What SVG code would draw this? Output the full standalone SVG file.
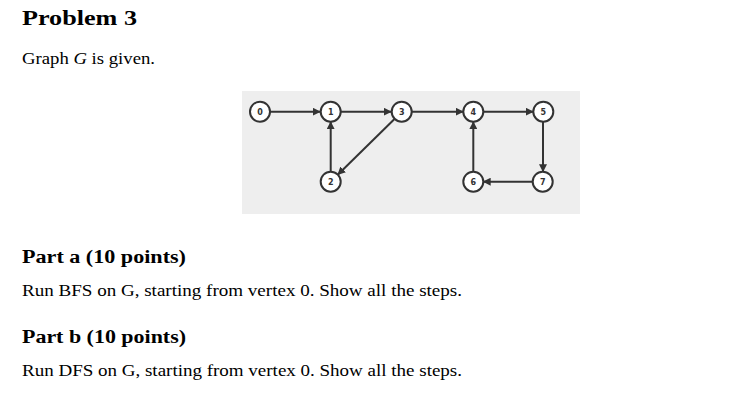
<svg xmlns="http://www.w3.org/2000/svg" width="750" height="407" viewBox="0 0 750 407">
<style>
.t{font-family:"Liberation Serif",serif;fill:#000}
.h{font-family:"Liberation Serif",serif;font-weight:bold;fill:#000}
.n circle{fill:#fff;stroke:#333;stroke-width:2}
.n text{font-family:"DejaVu Sans",sans-serif;font-size:8px;font-weight:bold;fill:#333;text-anchor:middle}
.e line{stroke:#333;stroke-width:2;marker-end:url(#a)}
</style>
<defs><marker id="a" viewBox="0 0 10 10" refX="9" refY="5" markerWidth="4" markerHeight="4" orient="auto"><path d="M0,0L10,5L0,10z" fill="#333"/></marker></defs>
<rect width="750" height="407" fill="#fff"/>
<text class="h" x="22" y="25" font-size="22" textLength="115" lengthAdjust="spacingAndGlyphs">Problem 3</text>
<text class="t" x="22" y="64" font-size="16" textLength="133" lengthAdjust="spacingAndGlyphs">Graph <tspan font-style="italic">G</tspan> is given.</text>
<rect x="242" y="91" width="338" height="123" fill="#eeeeee"/>
<g class="e">
<line x1="270" y1="111.7" x2="320" y2="111.7"/>
<line x1="341" y1="111.7" x2="391" y2="111.7"/>
<line x1="412" y1="111.7" x2="463" y2="111.7"/>
<line x1="483.5" y1="111.7" x2="533" y2="111.7"/>
<line x1="330.7" y1="171.5" x2="330.7" y2="122"/>
<line x1="394.5" y1="119" x2="338" y2="174.5"/>
<line x1="473.3" y1="171.5" x2="473.3" y2="122"/>
<line x1="543" y1="122" x2="543" y2="171.5"/>
<line x1="532.5" y1="181.7" x2="483.5" y2="181.7"/>
</g>
<g id="n0" class="n"><circle cx="260" cy="111.7" r="10"/><text x="260" y="114.5">0</text></g>
<g id="n1" class="n"><circle cx="330.7" cy="111.7" r="10"/><text x="330.7" y="114.5">1</text></g>
<g id="n3" class="n"><circle cx="401.7" cy="111.7" r="10"/><text x="401.7" y="114.5">3</text></g>
<g id="n4" class="n"><circle cx="473.3" cy="111.7" r="10"/><text x="473.3" y="114.5">4</text></g>
<g id="n5" class="n"><circle cx="543.3" cy="111.7" r="10"/><text x="543.3" y="114.5">5</text></g>
<g id="n2" class="n"><circle cx="330.7" cy="181.7" r="10"/><text x="330.7" y="184.5">2</text></g>
<g id="n6" class="n"><circle cx="473.3" cy="181.7" r="10"/><text x="473.3" y="184.5">6</text></g>
<g id="n7" class="n"><circle cx="542.7" cy="181.7" r="10"/><text x="542.7" y="184.5">7</text></g>
<text class="h" x="22" y="263" font-size="18" textLength="164" lengthAdjust="spacingAndGlyphs">Part a (10 points)</text>
<text class="t" x="22" y="296" font-size="16" textLength="440" lengthAdjust="spacingAndGlyphs">Run BFS on G, starting from vertex 0. Show all the steps.</text>
<text class="h" x="22" y="343" font-size="18" textLength="164" lengthAdjust="spacingAndGlyphs">Part b (10 points)</text>
<text class="t" x="22" y="376" font-size="16" textLength="440" lengthAdjust="spacingAndGlyphs">Run DFS on G, starting from vertex 0. Show all the steps.</text>
</svg>
